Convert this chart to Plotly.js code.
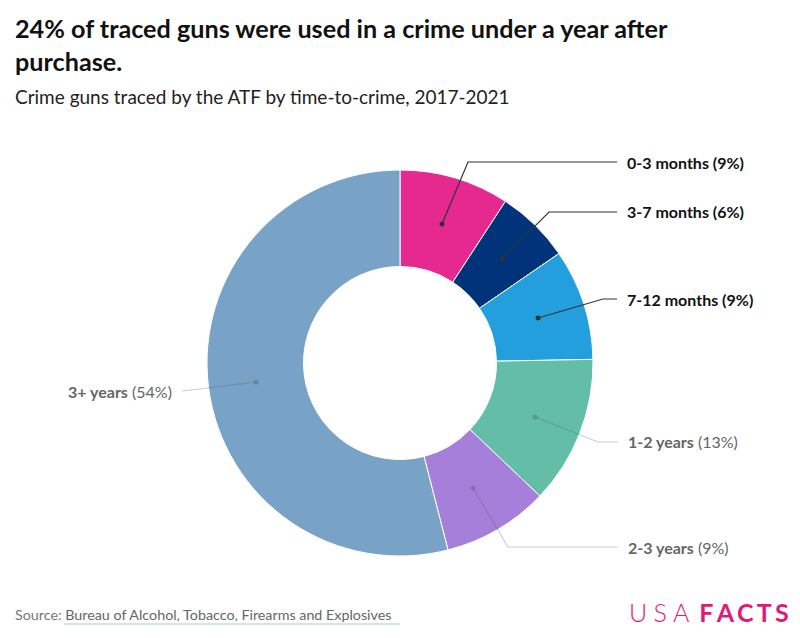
<!DOCTYPE html>
<html><head><meta charset="utf-8">
<script src="https://cdn.plot.ly/plotly-3.0.1.min.js"></script>
<style>html,body{margin:0;padding:0;background:#fff}#chart{width:800px;height:638px}</style>
</head><body><div id="chart"></div>
<script>
const categories = ["0-3 months","3-7 months","7-12 months","1-2 years","2-3 years","3+ years"];
const shares = [9.2, 6.2, 9.3, 12.4, 8.9, 54.0];
const shareLabels = ["9%","6%","9%","13%","9%","54%"];
const colors = ["#E6298F","#00337A","#249FDE","#63BDA7","#A67FDB","#79A3C6"];

const W = 800, H = 638;
const px = x => x / W, py = y => 1 - y / H;
const FONT = "Lato, 'Open Sans', sans-serif";

// leader layout (pixel positions of dot, elbow, end) per category
const leaders = [
  {dot:[442,224], elbow:[468,162], end:[617,162], side:"right", dark:true},
  {dot:[502,259], elbow:[549,212], end:[617,212], side:"right", dark:true},
  {dot:[538,318], elbow:[603,299], end:[617,299], side:"right", dark:true},
  {dot:[535,417], elbow:[598,442], end:[618,442], side:"right", dark:false},
  {dot:[473,488], elbow:[508,547], end:[618,547], side:"right", dark:false},
  {dot:[256,382], elbow:[200,389], end:[182,391], side:"left", dark:false}
];

const shapes = [], annotations = [];
leaders.forEach((l, i) => {
  const col = l.dark ? "#333333" : "rgba(90,90,90,0.3)";
  shapes.push({type:"path", xref:"paper", yref:"paper",
    path:`M ${px(l.dot[0])},${py(l.dot[1])} L ${px(l.elbow[0])},${py(l.elbow[1])} L ${px(l.end[0])},${py(l.end[1])}`,
    line:{color:col, width:1.2}});
  const r = 2.5;
  shapes.push({type:"circle", xref:"paper", yref:"paper",
    x0:px(l.dot[0]-r), x1:px(l.dot[0]+r), y0:py(l.dot[1]+r), y1:py(l.dot[1]-r),
    fillcolor: l.dark ? "#333333" : "rgba(90,90,90,0.35)", line:{width:0}});
  const txt = l.dark
    ? `<b>${categories[i]} (${shareLabels[i]})</b>`
    : `<b>${categories[i]}</b> (${shareLabels[i]})`;
  annotations.push({xref:"paper", yref:"paper",
    x: l.side === "right" ? px(l.end[0] + 8) : px(l.end[0] - 8),
    y: py(l.end[1]),
    xanchor: l.side === "right" ? "left" : "right", yanchor:"middle",
    text: txt, showarrow:false,
    font:{family:FONT, size:16, color: l.dark ? "#111111" : "#666666"}});
});

// titles, source, logo
annotations.push({xref:"paper", yref:"paper", x:px(13), y:py(11), xanchor:"left", yanchor:"top", align:"left",
  text:"<b>24% of traced guns were used in a crime under a year after<br>purchase.</b>", showarrow:false,
  font:{family:FONT, size:25.2, color:"#111111"}});
annotations.push({xref:"paper", yref:"paper", x:px(13), y:py(97), xanchor:"left", yanchor:"middle",
  text:"Crime guns traced by the ATF by time-to-crime, 2017-2021", showarrow:false,
  font:{family:FONT, size:19, color:"#222222"}});
annotations.push({xref:"paper", yref:"paper", x:px(13), y:py(614), xanchor:"left", yanchor:"middle",
  text:"Source: <span style='color:#666'>Bureau of Alcohol, Tobacco, Firearms and Explosives</span>", showarrow:false,
  font:{family:FONT, size:14.3, color:"#777777"}});
shapes.push({type:"line", xref:"paper", yref:"paper", x0:px(64), x1:px(400), y0:py(624), y1:py(624),
  line:{color:"#BFDDF0", width:1.5}});
annotations.push({xref:"paper", yref:"paper", x:px(791), y:py(612), xanchor:"right", yanchor:"middle",
  text:"<span style='font-weight:300'>U\u2009\u2009S\u2009\u2009A\u2009 </span><b>F\u2009A\u2009C\u2009T\u2009S</b>", showarrow:false,
  font:{family:FONT, size:25, color:"#E0187A"}});

const trace = {
  type:"pie", labels:categories, values:shares, sort:false, direction:"clockwise", rotation:0,
  hole:0.5, textinfo:"none", hoverinfo:"label+percent",
  marker:{colors:colors, line:{color:"#ffffff", width:1}},
  domain:{x:[px(400-193), px(400+193)], y:[py(556), py(170)]},
  showlegend:false
};

Plotly.newPlot("chart", [trace], {
  width:W, height:H, margin:{l:0,r:0,t:0,b:0},
  paper_bgcolor:"#ffffff", showlegend:false,
  shapes:shapes, annotations:annotations
}, {displayModeBar:false});
</script></body></html>
